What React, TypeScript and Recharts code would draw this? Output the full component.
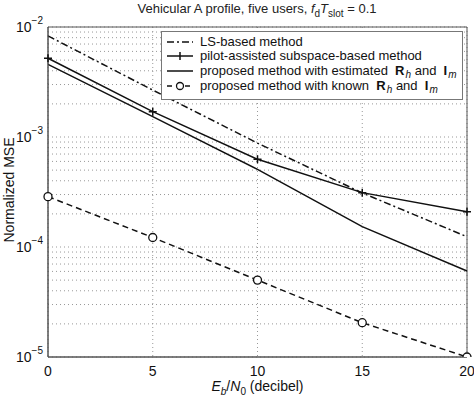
import { LineChart, Line, XAxis, YAxis, CartesianGrid, Legend, ReferenceArea, Label } from 'recharts';

const snrDb = [0, 5, 10, 15, 20];
const lsBased = [8.3e-3, 2.67e-3, 8.8e-4, 3.1e-4, 1.24e-4];
const pilotAssisted = [5.2e-3, 1.7e-3, 6.27e-4, 3.12e-4, 2.09e-4];
const proposedEstimated = [4.58e-3, 1.53e-3, 5.08e-4, 1.53e-4, 6.05e-5];
const proposedKnown = [2.87e-4, 1.22e-4, 5.0e-5, 2.05e-5, 1.0e-5];

const xTicks = [0, 5, 10, 15, 20];
const decadeTicks = [1e-5, 1e-4, 1e-3, 1e-2];
const decadeExponents = ['−5', '−4', '−3', '−2'];
const yGridTicks = [
  1e-5, 2e-5, 3e-5, 4e-5, 5e-5, 6e-5, 7e-5, 8e-5, 9e-5,
  1e-4, 2e-4, 3e-4, 4e-4, 5e-4, 6e-4, 7e-4, 8e-4, 9e-4,
  1e-3, 2e-3, 3e-3, 4e-3, 5e-3, 6e-3, 7e-3, 8e-3, 9e-3,
  1e-2,
];

const data = snrDb.map((x, i) => ({
  x,
  ls: lsBased[i],
  pilot: pilotAssisted[i],
  est: proposedEstimated[i],
  known: proposedKnown[i],
}));

const FONT = '"Liberation Sans", Arial, Helvetica, sans-serif';
const INK = '#111';

function YTick({ x, y, payload }: any) {
  const idx = decadeTicks.findIndex(v => Math.abs(v - payload.value) / v < 1e-6);
  if (idx < 0) return null;
  return (
    <text x={x + 3} y={y + 5} textAnchor="end" fontSize={14} fill={INK} fontFamily={FONT}>
      10
      <tspan dy={-8} fontSize={10}>{decadeExponents[idx]}</tspan>
    </text>
  );
}

function PlusDot({ cx, cy }: any) {
  if (cx == null || cy == null) return null;
  return <path d={`M${cx - 4},${cy}H${cx + 4}M${cx},${cy - 4}V${cy + 4}`} stroke={INK} strokeWidth={1.5} />;
}

function CircleDot({ cx, cy }: any) {
  if (cx == null || cy == null) return null;
  return <circle cx={cx} cy={cy} r={4} fill="#fff" stroke={INK} strokeWidth={1.3} />;
}

const subStyle = { fontSize: 10, fontStyle: 'italic', position: 'relative' as const, top: 3, lineHeight: 0, marginLeft: 1 };

function LegendBox() {
  const rows = [
    { dash: '7 3 2 3', marker: null, h: 14, text: <>LS-based method</> },
    { dash: undefined, marker: 'plus', h: 14, text: <>pilot-assisted subspace-based method</> },
    {
      dash: undefined, marker: null, h: 15, text: (
        <>proposed method with estimated&nbsp; <b>R</b><span style={subStyle}>h</span> and&nbsp; <b>I</b><span style={subStyle}>m</span></>
      ),
    },
    {
      dash: '5 4', marker: 'circle', h: 16, text: (
        <>proposed method with known&nbsp; <b>R</b><span style={subStyle}>h</span> and&nbsp; <b>I</b><span style={subStyle}>m</span></>
      ),
    },
  ];
  return (
    <div style={{
      width: 302, height: 69, border: '1px solid #777', background: '#fff',
      boxSizing: 'border-box', padding: '3px 0 0 3px', fontFamily: FONT, fontSize: 13, color: INK,
    }}>
      {rows.map((r, i) => (
        <div key={i} style={{ display: 'flex', alignItems: 'center', height: r.h, lineHeight: `${r.h}px`, whiteSpace: 'nowrap' }}>
          <svg width={30} height={12} style={{ marginRight: 5, flex: 'none' }}>
            <line x1={2} x2={28} y1={6} y2={6} stroke={INK} strokeWidth={1.5} strokeDasharray={r.dash} />
            {r.marker === 'plus' && <path d="M15,2V10" stroke={INK} strokeWidth={1.5} />}
            {r.marker === 'circle' && <circle cx={15} cy={6} r={3.5} fill="#fff" stroke={INK} strokeWidth={1.3} />}
          </svg>
          <span>{r.text}</span>
        </div>
      ))}
    </div>
  );
}

export default function App() {
  return (
    <div style={{ position: 'absolute', left: 0, top: 0, width: 474, height: 399, background: '#fff' }}>
      <div style={{
        position: 'absolute', left: 0, top: 1, width: 514, textAlign: 'center',
        fontFamily: FONT, fontSize: 13, color: '#222', zIndex: 2, lineHeight: '16px',
      }}>
        Vehicular A profile, five users, <i>f</i><span style={{ fontSize: 10, position: 'relative', top: 4 }}>d</span>
        <i>T</i><span style={{ fontSize: 10, position: 'relative', top: 4 }}>slot</span> = 0.1
      </div>
      <LineChart width={474} height={399} data={data} margin={{ top: 27, right: 7, left: 8, bottom: 12 }}>
        <CartesianGrid stroke="#999" strokeDasharray="1 3" />
        <XAxis
          dataKey="x"
          type="number"
          domain={[0, 20]}
          ticks={xTicks}
          height={30}
          stroke="#555"
          tickLine={false}
          tick={{ fill: INK, fontSize: 14, fontFamily: FONT }}
          tickMargin={3}
        >
          <Label
            position="insideBottom"
            content={({ viewBox }: any) => (
              <text x={viewBox.x + viewBox.width / 2} y={391} textAnchor="middle" fontSize={14} fill={INK} fontFamily={FONT}>
                <tspan fontStyle="italic">E</tspan>
                <tspan fontStyle="italic" fontSize={10} dy={4}>b</tspan>
                <tspan dy={-4}>/</tspan>
                <tspan fontStyle="italic">N</tspan>
                <tspan fontSize={10} dy={4}>0</tspan>
                <tspan dy={-4}> (decibel)</tspan>
              </text>
            )}
          />
        </XAxis>
        <YAxis
          type="number"
          scale="log"
          domain={[1e-5, 1e-2]}
          allowDataOverflow
          ticks={yGridTicks}
          interval={0}
          width={40}
          stroke="#555"
          tickLine={false}
          tick={<YTick />}
        >
          <Label
            content={() => (
              <text x={14} y={190} transform="rotate(-90 14 190)" textAnchor="middle" fontSize={14} fill={INK} fontFamily={FONT}>
                Normalized MSE
              </text>
            )}
          />
        </YAxis>
        <ReferenceArea x1={0} x2={20} y1={1e-5} y2={1e-2} fill="none" stroke="#555" strokeWidth={1} ifOverflow="visible" />
        <Line dataKey="ls" stroke={INK} strokeWidth={1.5} strokeDasharray="7 3 2 3" dot={false} isAnimationActive={false} />
        <Line dataKey="pilot" stroke={INK} strokeWidth={1.5} dot={<PlusDot />} isAnimationActive={false} />
        <Line dataKey="est" stroke={INK} strokeWidth={1.5} dot={false} isAnimationActive={false} />
        <Line dataKey="known" stroke={INK} strokeWidth={1.5} strokeDasharray="6 4" dot={<CircleDot />} isAnimationActive={false} />
        <Legend
          layout="vertical"
          align="center"
          verticalAlign="middle"
          wrapperStyle={{ position: 'absolute', left: 161, top: 31, width: 302 }}
          content={() => <LegendBox />}
        />
      </LineChart>
    </div>
  );
}
